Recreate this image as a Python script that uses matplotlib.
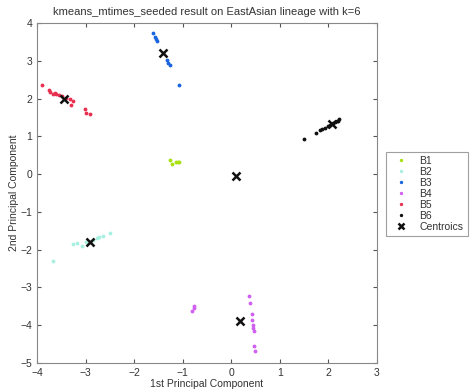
import numpy as np
import matplotlib
matplotlib.use("Agg")
import matplotlib.pyplot as plt

plt.rcParams['font.family'] = ['Liberation Sans', 'DejaVu Sans']

# cluster points
b1_x = [-1.25, -1.21, -1.14, -1.10, -1.07]
b1_y = [0.37, 0.28, 0.31, 0.31, 0.31]

b2_x = [-3.66, -3.25, -3.18, -3.08, -3.0, -2.85, -2.77, -2.72, -2.65, -2.50]
b2_y = [-2.30, -1.85, -1.82, -1.90, -1.80, -1.75, -1.70, -1.67, -1.65, -1.57]

b3_x = [-1.61, -1.57, -1.55, -1.52, -1.33, -1.30, -1.26, -1.07]
b3_y = [3.75, 3.63, 3.59, 3.53, 3.02, 2.94, 2.90, 2.35]

b4_x = [-0.76, -0.76, -0.80, 0.37, 0.38, 0.42, 0.43, 0.44, 0.45, 0.46, 0.48, 0.49]
b4_y = [-3.49, -3.55, -3.62, -3.22, -3.40, -3.71, -3.86, -4.00, -4.08, -4.15, -4.55, -4.67]

b5_x = [-3.90, -3.75, -3.73, -3.66, -3.63, -3.60, -3.55, -3.49, -3.40, -3.32,
        -3.25, -3.29, -3.01, -2.98, -2.91]
b5_y = [2.35, 2.22, 2.18, 2.12, 2.15, 2.12, 2.10, 2.06, 2.02, 1.98,
        1.94, 1.83, 1.72, 1.62, 1.59]

b6_x = [1.50, 1.75, 1.82, 1.88, 1.93, 1.99, 2.04, 2.10, 2.13, 2.17, 2.20, 2.23]
b6_y = [0.94, 1.10, 1.16, 1.19, 1.22, 1.27, 1.30, 1.35, 1.37, 1.40, 1.42, 1.45]

cent_x = [0.09, -2.91, -1.40, 0.18, -3.44, 2.08]
cent_y = [-0.05, -1.79, 3.21, -3.89, 2.00, 1.33]

names = ["B1", "B2", "B3", "B4", "B5", "B6"]
colors = ["#a8e010", "#a8f0e0", "#1a64e0", "#d060f0", "#e83050", "#111111"]

fig = plt.figure(figsize=(4.74, 3.92), dpi=100)
ax = fig.add_axes([0.078, 0.074, 0.717, 0.867])

xs = [b1_x, b2_x, b3_x, b4_x, b5_x, b6_x]
ys = [b1_y, b2_y, b3_y, b4_y, b5_y, b6_y]
for i in range(6):
    ax.plot(xs[i], ys[i], '.', color=colors[i], markersize=3.5, label=names[i])
ax.plot(cent_x, cent_y, 'x', color='#111111', markersize=6, mew=1.8, label="Centroics")

ax.set_xlim(-4, 3)
ax.set_ylim(-5, 4)
ax.set_xticks(range(-4, 4))
ax.set_yticks(range(-5, 5))
ax.tick_params(direction='in', labelsize=7.5, colors='#555555', length=3,
               top=True, right=True, labelcolor='#333333')
for s in ax.spines.values():
    s.set_color('#888888')
    s.set_linewidth(0.8)

ax.set_title("kmeans_mtimes_seeded result on EastAsian lineage with k=6",
             fontsize=8, color='#333333')
ax.set_xlabel("1st Principal Component", fontsize=7.5, color='#333333', labelpad=1)
ax.set_ylabel("2nd Principal Component", fontsize=7.5, color='#333333', labelpad=1)

leg = ax.legend(loc='upper left', bbox_to_anchor=(1.012, 0.637), fontsize=7.5,
                frameon=True, fancybox=False, borderpad=0.4, labelspacing=0.1,
                handletextpad=0.8, handlelength=2.0, markerscale=0.8)
leg.get_frame().set_edgecolor('#888888')
leg.get_frame().set_linewidth(0.8)
for t in leg.get_texts():
    t.set_color('#333333')

fig.savefig("out.png", dpi=100)
